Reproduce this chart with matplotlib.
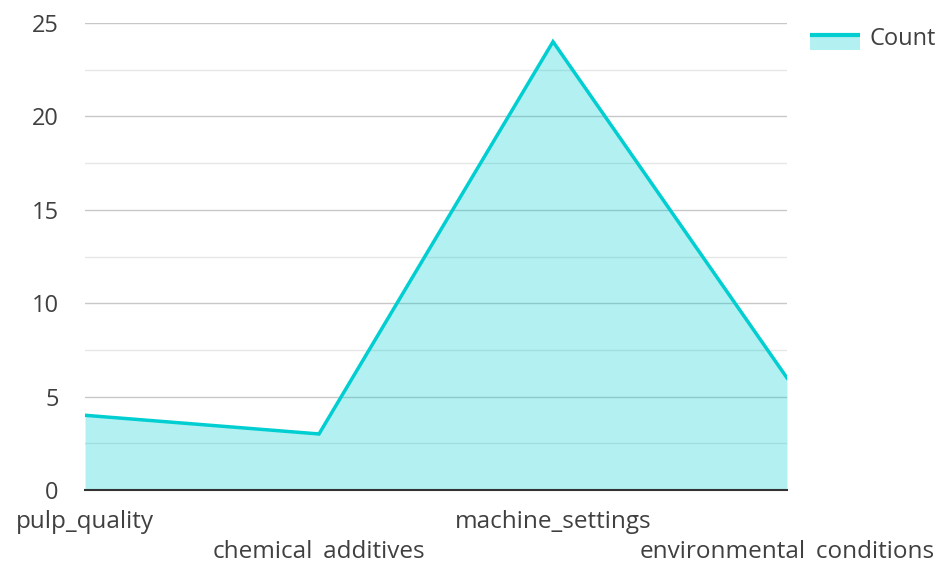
import matplotlib.pyplot as plt
from matplotlib.lines import Line2D
from matplotlib.patches import Rectangle
from matplotlib.transforms import Bbox

plt.rcParams['font.family'] = ['Open Sans', 'DejaVu Sans']

categories = ['pulp_quality', 'chemical_additives', 'machine_settings', 'environmental_conditions']
counts = [4, 3, 24, 6]

line_color = '#00CED1'
text_color = '#404040'


class AreaHandler:
    # filled patch with the line drawn along its top edge, sitting a bit below the text centre
    def legend_artist(self, legend, orig_handle, fontsize, handlebox):
        x0, y0 = handlebox.xdescent, handlebox.ydescent - 4
        w, h = handlebox.width, handlebox.height
        tr = handlebox.get_transform()
        p = Rectangle((x0, y0), w, h, facecolor=line_color, alpha=0.3, edgecolor='none', transform=tr)
        l = Line2D([x0, x0 + w], [y0 + h - 1.2, y0 + h - 1.2], color=line_color, linewidth=3,
                   solid_capstyle='butt', transform=tr)
        handlebox.add_artist(p)
        handlebox.add_artist(l)
        return p


fig = plt.figure(figsize=(9.43, 5.62), dpi=100)
ax = fig.add_axes([85 / 943, 1 - 490 / 562, (787 - 85) / 943, (490 - 23) / 562])

x = list(range(len(categories)))
ax.fill_between(x, counts, 0, color=line_color, alpha=0.3, linewidth=0)
area_line, = ax.plot(x, counts, color=line_color, linewidth=2.5, solid_joinstyle='miter')

ax.set_xlim(0, len(categories) - 1)
ax.set_ylim(0, 25)
ax.set_yticks([0, 5, 10, 15, 20, 25])
ax.set_yticks([2.5, 7.5, 12.5, 17.5, 22.5], minor=True)
ax.grid(axis='y', which='major', color='#c8c8c8', linewidth=1)
ax.grid(axis='y', which='minor', color='#e6e6e6', linewidth=1)
ax.set_axisbelow(True)

for s in ['top', 'right', 'left']:
    ax.spines[s].set_visible(False)
ax.spines['bottom'].set_color('#333333')
ax.spines['bottom'].set_linewidth(1.5)

ax.tick_params(axis='y', which='both', length=0, pad=19, labelsize=17, labelcolor=text_color)
ax.set_xticks(x)
ax.set_xticklabels([])
ax.tick_params(axis='x', length=0)

# staggered category labels; the lower row is cut just under its baseline like in the original
clip = Bbox([[0, 562 - 559.5], [943, 562]])
for i, cat in enumerate(categories):
    yb = -(528 - 490) / 467 if i % 2 == 0 else -(558.5 - 490) / 467
    t = ax.text(i, yb, cat, transform=ax.get_xaxis_transform(), ha='center', va='baseline',
                fontsize=17.5, color=text_color)
    if i % 2 == 1:
        t.set_clip_box(clip)
        t.set_clip_on(True)

fig.legend([area_line], ['Count'], loc='upper left', bbox_to_anchor=(810 / 943, 1 - 27 / 562),
           frameon=False, fontsize=17, labelcolor=text_color,
           handler_map={Line2D: AreaHandler()}, borderpad=0, borderaxespad=0,
           handlelength=2.1, handleheight=0.75, handletextpad=0.4)

fig.savefig('out.png', dpi=100)
